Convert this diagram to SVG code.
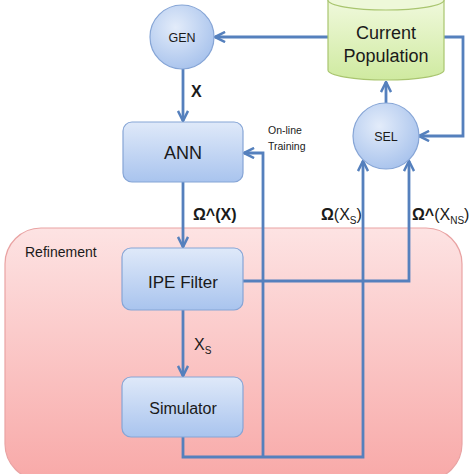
<svg xmlns="http://www.w3.org/2000/svg" width="474" height="474" viewBox="0 0 474 474">
<defs>
<linearGradient id="gRef" x1="0" y1="0" x2="0" y2="1">
<stop offset="0" stop-color="#fde3e3"/>
<stop offset="1" stop-color="#f8a9a8"/>
</linearGradient>
<linearGradient id="gBox" x1="0" y1="0" x2="0" y2="1">
<stop offset="0" stop-color="#dfe9f9"/>
<stop offset="1" stop-color="#a9c4ee"/>
</linearGradient>
<radialGradient id="gCirc" cx="0.4" cy="0.35" r="0.7">
<stop offset="0" stop-color="#e3ecfa"/>
<stop offset="1" stop-color="#a7c2ec"/>
</radialGradient>
<linearGradient id="gCyl" x1="0" y1="0" x2="0" y2="1">
<stop offset="0" stop-color="#f0f9dc"/>
<stop offset="1" stop-color="#cfeaa0"/>
</linearGradient>
<marker id="arr" viewBox="0 0 10 10" refX="9" refY="5" markerWidth="4.5" markerHeight="4.5" orient="auto" markerUnits="strokeWidth">
<path d="M1,1 L9,5 L1,9" fill="none" stroke="#5580bd" stroke-width="2"/>
</marker>
<style>
.box{fill:url(#gBox);stroke:#86a5d6;stroke-width:1.2}
.circ{fill:url(#gCirc);stroke:#86a5d6;stroke-width:1.2}
.con{fill:none;stroke:#5580bd;stroke-width:2.8;stroke-linejoin:miter}
.t{font-family:"Liberation Sans",Arial,sans-serif;fill:#1a1a1a;text-anchor:middle}
.lbl{font-family:"Liberation Sans",Arial,sans-serif;fill:#1a1a1a;font-size:16px}
.b{font-weight:bold}
.sm{font-family:"Liberation Sans",Arial,sans-serif;font-size:10.5px;fill:#1a1a1a}
</style>
</defs>
<rect width="474" height="474" fill="#ffffff"/>
<g id="refinement">
<rect x="5" y="228" width="457" height="252" rx="36" ry="36" fill="url(#gRef)" stroke="#e9a3a3" stroke-width="1.2"/>
<text x="25" y="257" style="font-family:'Liberation Sans',Arial,sans-serif;font-size:14px;fill:#1a1a1a">Refinement</text>
</g>
<g id="connectors">
<path class="con" d="M329,37 H215" marker-end="url(#arr)"/>
<path class="con" d="M444,37 H463 V136 H419" marker-end="url(#arr)"/>
<path class="con" d="M386,103 V82" marker-end="url(#arr)"/>
<path class="con" d="M183,69 V121" marker-end="url(#arr)"/>
<path class="con" d="M183,182 V247" marker-end="url(#arr)"/>
<path class="con" d="M183,310 V376" marker-end="url(#arr)"/>
<path class="con" d="M183,437 V457 H363 V161" marker-end="url(#arr)"/>
<path class="con" d="M263,457 V153 H244" marker-end="url(#arr)"/>
<path class="con" d="M243,281 H409 V161" marker-end="url(#arr)"/>
</g>
<g id="current-population">
<path d="M328,0 V70 A58,10 0 0 0 444,70 V0 Z" fill="url(#gCyl)" stroke="#a9c56f" stroke-width="1.2"/>
<ellipse cx="386" cy="0" rx="58" ry="10" fill="#eef8d9" stroke="#a9c56f" stroke-width="1.2"/>
<text class="t" x="386" y="39" font-size="18">Current</text>
<text class="t" x="386" y="62" font-size="18">Population</text>
</g>
<g id="gen">
<circle class="circ" cx="182" cy="37" r="32"/>
<text class="t" x="182" y="42" font-size="12.5">GEN</text>
</g>
<g id="sel">
<circle class="circ" cx="386" cy="136" r="33"/>
<text class="t" x="386" y="141" font-size="12.5">SEL</text>
</g>
<g id="ann">
<rect class="box" x="123" y="122" width="120" height="60" rx="9"/>
<text class="t" x="183" y="159" font-size="18">ANN</text>
</g>
<g id="ipe-filter">
<rect class="box" x="122" y="248" width="121" height="62" rx="9"/>
<text class="t" x="183" y="288" font-size="17">IPE Filter</text>
</g>
<g id="simulator">
<rect class="box" x="122" y="377" width="121" height="60" rx="9"/>
<text class="t" x="183" y="414" font-size="16">Simulator</text>
</g>
<g id="labels">
<text class="lbl b" x="191" y="97">X</text>
<text class="sm" x="268" y="134">On-line</text>
<text class="sm" x="268" y="150">Training</text>
<text class="lbl b" x="193" y="220">Ω^(X)</text>
<text class="lbl" x="321" y="220"><tspan class="b">Ω</tspan>(X<tspan font-size="10" dy="4">S</tspan><tspan dy="-4">)</tspan></text>
<text class="lbl" x="412" y="220"><tspan class="b">Ω^</tspan>(X<tspan font-size="10" dy="4">NS</tspan><tspan dy="-4">)</tspan></text>
<text class="lbl" x="194" y="350">X<tspan font-size="10" dy="4">S</tspan></text>
</g>
</svg>
